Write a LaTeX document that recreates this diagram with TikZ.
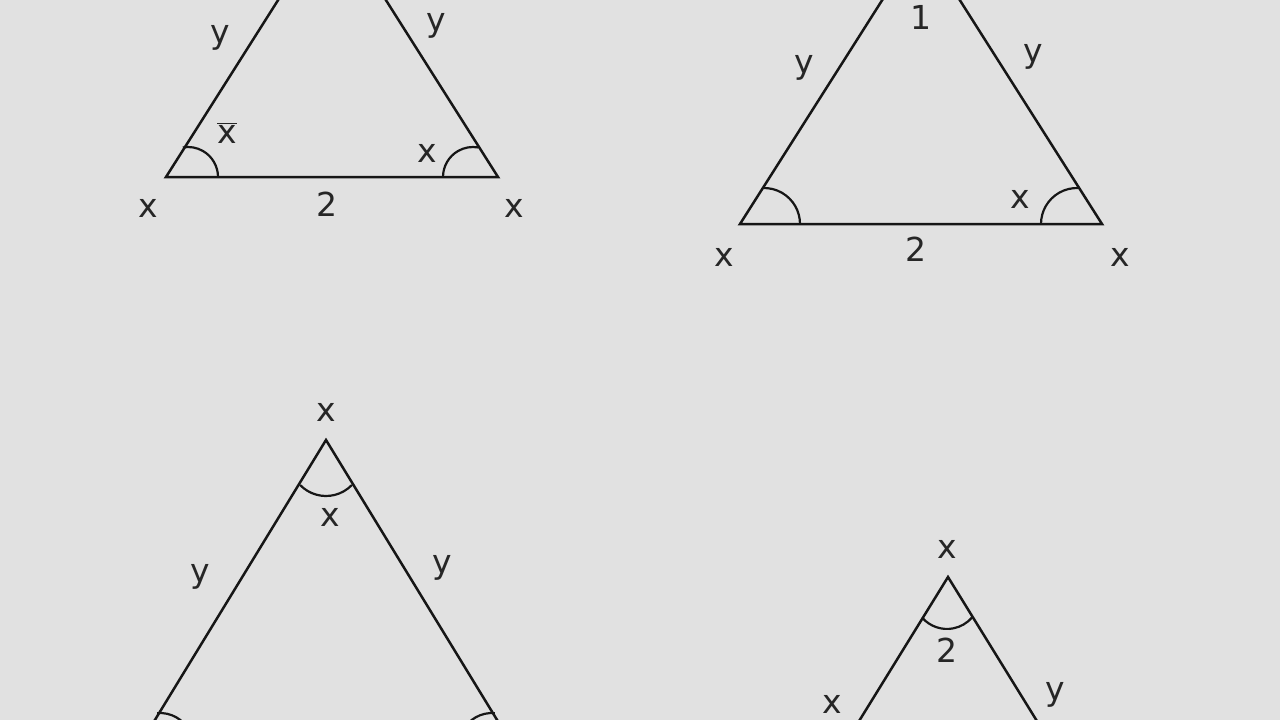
\documentclass[tikz,border=0pt]{standalone}
\usepackage{fontspec}
\setmainfont{DejaVu Sans}
\usepackage{tikz}
\usetikzlibrary{positioning}
\definecolor{paper}{HTML}{E1E1E1}
\definecolor{ink}{HTML}{161616}
\definecolor{labelink}{HTML}{262626}
\newfontfamily\labelfont{DejaVu Sans}
\tikzset{
    side/.style={line width=2.5pt, draw=ink, line join=miter},
    anglearc/.style={line width=2.2pt, draw=ink},
    lbl/.style={text=labelink, font=\labelfont\fontsize{33}{38}\selectfont, inner sep=0pt},
}
\begin{document}
\begin{tikzpicture}[x=1pt, y=-1pt]
        \useasboundingbox (0,0) rectangle (1280,720);
        \fill[paper] (0,0) rectangle (1280,720);
        \clip (0,0) rectangle (1280,720);

        \coordinate (a1) at (332,-85);
        \coordinate (b1) at (166,177);
        \coordinate (c1) at (498,177);
        \coordinate (a2) at (921,-61);
        \coordinate (b2) at (740,224);
        \coordinate (c2) at (1102,224);
        \coordinate (a3) at (326,440);
        \coordinate (b3) at (139,746);
        \coordinate (c3) at (513,746);
        \coordinate (a4) at (948,577);
        \coordinate (b4) at (835,760);
        \coordinate (c4) at (1061,760);

        \draw[side] (a1) -- (b1) -- (c1) -- cycle;
        \draw[side] (a2) -- (b2) -- (c2) -- cycle;
        \draw[side] (a3) -- (b3) -- (c3) -- cycle;
        \draw[side] (a4) -- (b4) -- (c4) -- cycle;

        \draw[anglearc] (218,177) arc[start angle=0, end angle=100, radius=30pt];
        \draw[anglearc] (443,177) arc[start angle=180, end angle=80, radius=30pt];
        \draw[anglearc] (800,224) arc[start angle=0, end angle=92, radius=36pt];
        \draw[anglearc] (1041,224) arc[start angle=180, end angle=88, radius=36pt];
        \draw[anglearc] (300.1,485) arc[start angle=224, end angle=316, radius=36pt];
        \draw[anglearc] (193,746) arc[start angle=0, end angle=95, radius=33pt];
        \draw[anglearc] (459,746) arc[start angle=180, end angle=85, radius=33pt];
        \draw[anglearc] (922.1,617.6) arc[start angle=221, end angle=319, radius=33pt];

        \node[lbl] (y1l) at (220,38) {y};
        \node[lbl] (y1r) at (436,26) {y};
        \node[lbl] (x1b) at (227,133) {$\overline{\mbox{x}}$};
        \node[lbl] (x1c) at (427,153) {x};
        \node[lbl] (x1l) at (148,208) {x};
        \node[lbl] (n1)  at (327,204) {2};
        \node[lbl] (x1r) at (514,208) {x};

        \node[lbl] (n2t) at (921,17) {1};
        \node[lbl] (y2l) at (804,68) {y};
        \node[lbl] (y2r) at (1033,57) {y};
        \node[lbl] (x2c) at (1020,199) {x};
        \node[lbl] (x2l) at (724,257) {x};
        \node[lbl] (n2)  at (916,249) {2};
        \node[lbl] (x2r) at (1120,257) {x};

        \node[lbl] (x3t) at (326,412) {x};
        \node[lbl] (x3c) at (330,517) {x};
        \node[lbl] (y3l) at (200,577) {y};
        \node[lbl] (y3r) at (442,568) {y};

        \node[lbl] (x4t) at (947,549) {x};
        \node[lbl] (n4)  at (947,650) {2};
        \node[lbl] (x4l) at (832,704) {x};
        \node[lbl] (y4r) at (1055,695) {y};
    \end{tikzpicture}
\end{document}
